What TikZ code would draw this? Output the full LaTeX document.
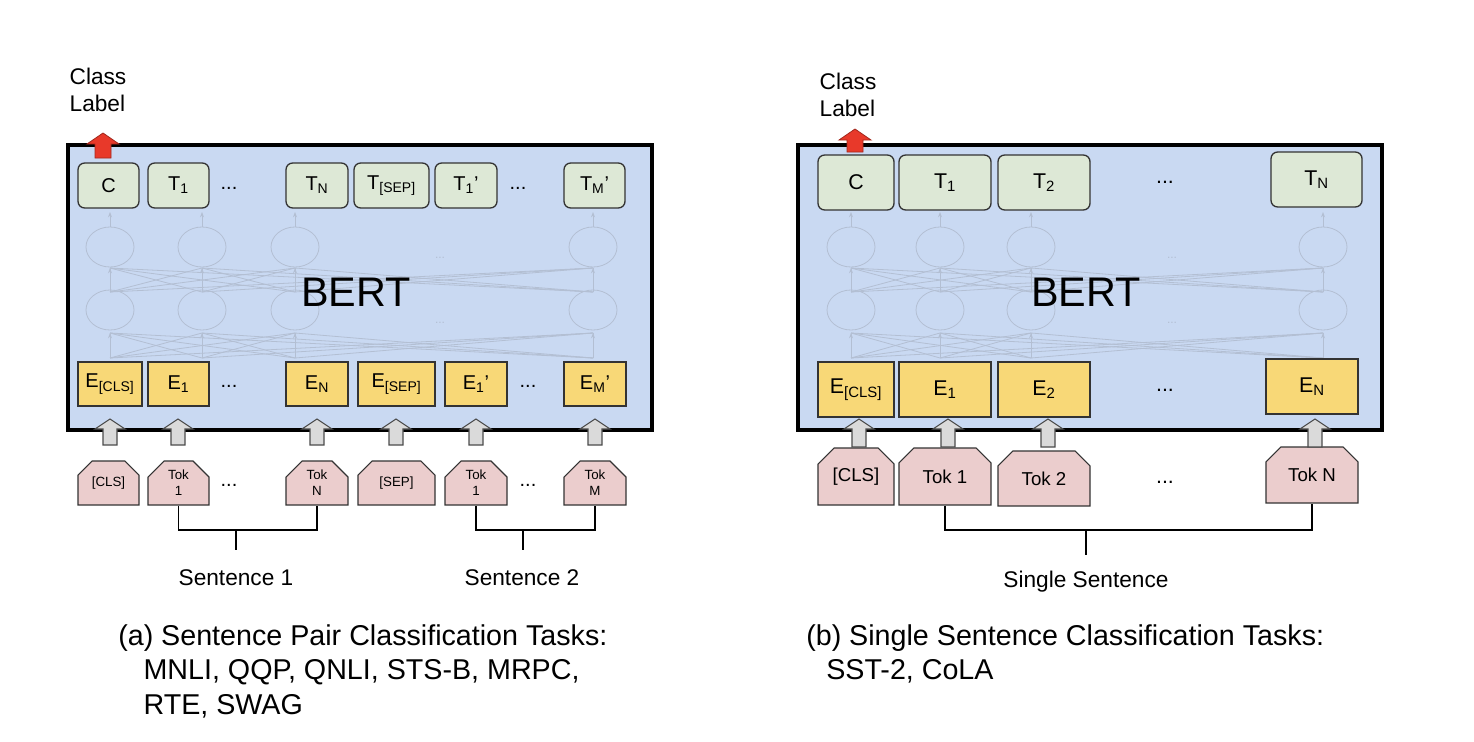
\documentclass[tikz,border=0pt]{standalone}
\usepackage{fontspec}
\setmainfont{Liberation Sans}
\usetikzlibrary{shapes.misc, arrows.meta}
\definecolor{bertblue}{HTML}{C9D9F2}
\definecolor{outgreen}{HTML}{DDE8D6}
\definecolor{embyellow}{HTML}{F8D877}
\definecolor{tokpink}{HTML}{EBCDCD}
\definecolor{clsred}{HTML}{E8392A}
\definecolor{netgray}{HTML}{B3BFD3}
\definecolor{arrgray}{HTML}{DADADA}
% box: style, name, x1, y1, x2, y2, text (pixel units)
\newcommand\pxbox[7]{\node[#1, minimum width={(#5-#3)*0.75pt}, minimum height={(#6-#4)*0.75pt}]
  (#2) at ({(#3+#5)/2},{(#4+#6)/2}) {#7};}
% block arrow: x centre, y bottom, y top
\newcommand\blockup[3]{\draw[fill=arrgray, draw=black!70, line width=0.8pt]
  (#1-7,#2) -- (#1+7,#2) -- (#1+7,#3+10) -- (#1+15,#3+10) -- (#1,#3) -- (#1-15,#3+10) -- (#1-7,#3+10) -- cycle;}
\newcommand\redup[3]{\draw[fill=clsred, draw=clsred!70!black, line width=0.6pt]
  (#1-8,#2) -- (#1+8,#2) -- (#1+8,#3+11) -- (#1+16,#3+11) -- (#1,#3) -- (#1-16,#3+11) -- (#1-8,#3+11) -- cycle;}
\tikzset{
  x=0.75pt, y=-0.75pt,
  bert/.style={draw=black, line width=3pt, fill=bertblue},
  tbox/.style={draw=black!80, line width=1pt, fill=outgreen, rounded corners=5pt, inner sep=0pt},
  ebox/.style={draw=black!80, line width=1pt, fill=embyellow, inner sep=0pt},
  tok/.style={draw=black!80, line width=0.8pt, fill=tokpink, chamfered rectangle, chamfered rectangle corners={north west,north east}, chamfered rectangle xsep=6pt, chamfered rectangle ysep=6pt, inner sep=0pt, align=center},
  net/.style={draw=netgray, line width=0.6pt},
  neta/.style={net, -{Stealth[length=4pt,width=3pt]}},
  brk/.style={draw=black, line width=0.8pt},
  lbl/.style={font=\fontsize{15}{15}\selectfont},
  lbr/.style={font=\fontsize{16}{16}\selectfont},
  tkl/.style={font=\fontsize{10}{12}\selectfont},
  tkr/.style={font=\fontsize{14}{14}\selectfont},
  sent/.style={font=\fontsize{17}{17}\selectfont},
  clslbl/.style={font=\fontsize{17}{20}\selectfont, align=left},
  captxt/.style={font=\fontsize{21.5}{26}\selectfont, align=left, anchor=north west, inner sep=0pt},
}
\begin{document}
\begin{tikzpicture}
\useasboundingbox (0,0) rectangle (1474,742);

% ---------------- (a) sentence pair ----------------
\pxbox{bert}{bertA}{68}{145}{652}{430}{}
\foreach \xa in {110,202,295,593} {
  \foreach \xb in {110,202,295,593} {
    \draw[net] (\xa,358) -- (\xb,333);
    \draw[net] (\xa,292) -- (\xb,268);
  }
  \draw[neta] (\xa,358) -- (\xa,333);
  \draw[neta] (\xa,292) -- (\xa,268);
  \draw[neta] (\xa,227) -- (\xa,212);
  \draw[net] (\xa,247) ellipse (24 and 20);
  \draw[net] (\xa,310) ellipse (24 and 20);
}
\node[text=netgray, font=\small] (ndA1) at (440,258) {...};
\node[text=netgray, font=\small] (ndA2) at (440,323) {...};
\node[font=\fontsize{31}{31}\selectfont] (bertlA) at (356,292) {BERT};

\pxbox{tbox,lbl}{tAc}{78}{163}{139}{208}{C}
\pxbox{tbox,lbl}{tA1}{148}{163}{209}{208}{T\textsubscript{1}}
\node[lbl] (tAd1) at (229,188) {...};
\pxbox{tbox,lbl}{tAn}{286}{163}{348}{208}{T\textsubscript{N}}
\pxbox{tbox,lbl}{tAs}{354}{163}{429}{208}{T\textsubscript{[SEP]}}
\pxbox{tbox,lbl}{tAp}{435}{163}{497}{208}{T\textsubscript{1}’}
\node[lbl] (tAd2) at (518,188) {...};
\pxbox{tbox,lbl}{tAm}{564}{163}{625}{208}{T\textsubscript{M}’}

\pxbox{ebox,lbl}{eAc}{78}{362}{142}{406}{E\textsubscript{[CLS]}}
\pxbox{ebox,lbl}{eA1}{148}{362}{209}{406}{E\textsubscript{1}}
\node[lbl] (eAd1) at (229,386) {...};
\pxbox{ebox,lbl}{eAn}{286}{362}{348}{406}{E\textsubscript{N}}
\pxbox{ebox,lbl}{eAs}{358}{362}{435}{406}{E\textsubscript{[SEP]}}
\pxbox{ebox,lbl}{eAp}{445}{362}{507}{406}{E\textsubscript{1}’}
\node[lbl] (eAd2) at (528,386) {...};
\pxbox{ebox,lbl}{eAm}{564}{362}{626}{406}{E\textsubscript{M}’}

\pxbox{tok,tkl}{kAc}{78}{461}{139}{505}{[CLS]}
\pxbox{tok,tkl}{kA1}{148}{461}{209}{505}{Tok\\1}
\node[lbl] (kAd1) at (229,485) {...};
\pxbox{tok,tkl}{kAn}{286}{461}{348}{505}{Tok\\N}
\pxbox{tok,tkl}{kAs}{358}{461}{435}{505}{[SEP]}
\pxbox{tok,tkl}{kAp}{445}{461}{507}{505}{Tok\\1}
\node[lbl] (kAd2) at (528,485) {...};
\pxbox{tok,tkl}{kAm}{564}{461}{626}{505}{Tok\\M}

\foreach \xc in {110,178,317,396,476,595} {\blockup{\xc}{445}{419}}
\redup{103}{158}{133}
\node[clslbl] (clsA) at (98,90) {Class\\Label};

\coordinate (jA1) at (236,530);
\coordinate (jA2) at (523,530);
\draw[brk] (kA1.south) |- (jA1) -| (kAn.south);
\draw[brk] (kAp.south) |- (jA2) -| (kAm.south);
\draw[brk] (jA1) -- ++(0,20) coordinate (tA1);
\draw[brk] (jA2) -- ++(0,20) coordinate (tA2);
\node[sent] (sA1) at (236,578) {Sentence 1};
\node[sent] (sA2) at (522,578) {Sentence 2};

\node[captxt] (capA) at (118,624) {(a) Sentence Pair Classification Tasks:\\
\hspace*{19pt}MNLI, QQP, QNLI, STS-B, MRPC,\\
\hspace*{19pt}RTE, SWAG};

% ---------------- (b) single sentence ----------------
\pxbox{bert}{bertB}{798}{145}{1382}{430}{}
\foreach \xa in {851,940,1031,1323} {
  \foreach \xb in {851,940,1031,1323} {
    \draw[net] (\xa,358) -- (\xb,333);
    \draw[net] (\xa,292) -- (\xb,268);
  }
  \draw[neta] (\xa,358) -- (\xa,333);
  \draw[neta] (\xa,292) -- (\xa,268);
  \draw[neta] (\xa,227) -- (\xa,212);
  \draw[net] (\xa,247) ellipse (24 and 20);
  \draw[net] (\xa,310) ellipse (24 and 20);
}
\node[text=netgray, font=\small] (ndB1) at (1172,258) {...};
\node[text=netgray, font=\small] (ndB2) at (1172,323) {...};
\node[font=\fontsize{31}{31}\selectfont] (bertlB) at (1086,292) {BERT};

\pxbox{tbox,lbr}{tBc}{818}{155}{894}{210}{C}
\pxbox{tbox,lbr}{tB1}{899}{155}{991}{210}{T\textsubscript{1}}
\pxbox{tbox,lbr}{tB2}{998}{155}{1090}{210}{T\textsubscript{2}}
\node[lbr] (tBd) at (1165,182) {...};
\pxbox{tbox,lbr}{tBn}{1271}{152}{1362}{207}{T\textsubscript{N}}

\pxbox{ebox,lbr}{eBc}{818}{362}{894}{417}{E\textsubscript{[CLS]}}
\pxbox{ebox,lbr}{eB1}{899}{362}{991}{417}{E\textsubscript{1}}
\pxbox{ebox,lbr}{eB2}{998}{362}{1090}{417}{E\textsubscript{2}}
\node[lbr] (eBd) at (1165,390) {...};
\pxbox{ebox,lbr}{eBn}{1266}{359}{1358}{414}{E\textsubscript{N}}

\pxbox{tok,tkr}{kBc}{818}{448}{894}{505}{[CLS]}
\pxbox{tok,tkr}{kB1}{899}{448}{991}{505}{Tok 1}
\pxbox{tok,tkr}{kB2}{998}{451}{1090}{506}{Tok 2}
\node[lbr] (kBd) at (1165,482) {...};
\pxbox{tok,tkr}{kBn}{1266}{447}{1358}{503}{Tok N}

\foreach \xc in {859,948,1048,1315} {\blockup{\xc}{447}{419}}
\redup{855}{152}{129}
\node[clslbl] (clsB) at (848,95) {Class\\Label};

\coordinate (jB) at (1086,530);
\draw[brk] (kB1.south) |- (jB) -| (kBn.south);
\draw[brk] (jB) -- ++(0,25) coordinate (tB);
\node[sent] (sB) at (1086,582) {Single Sentence};

\node[captxt] (capB) at (806,624) {(b) Single Sentence Classification Tasks:\\
\hspace*{15pt}SST-2, CoLA};
\end{tikzpicture}
\end{document}
